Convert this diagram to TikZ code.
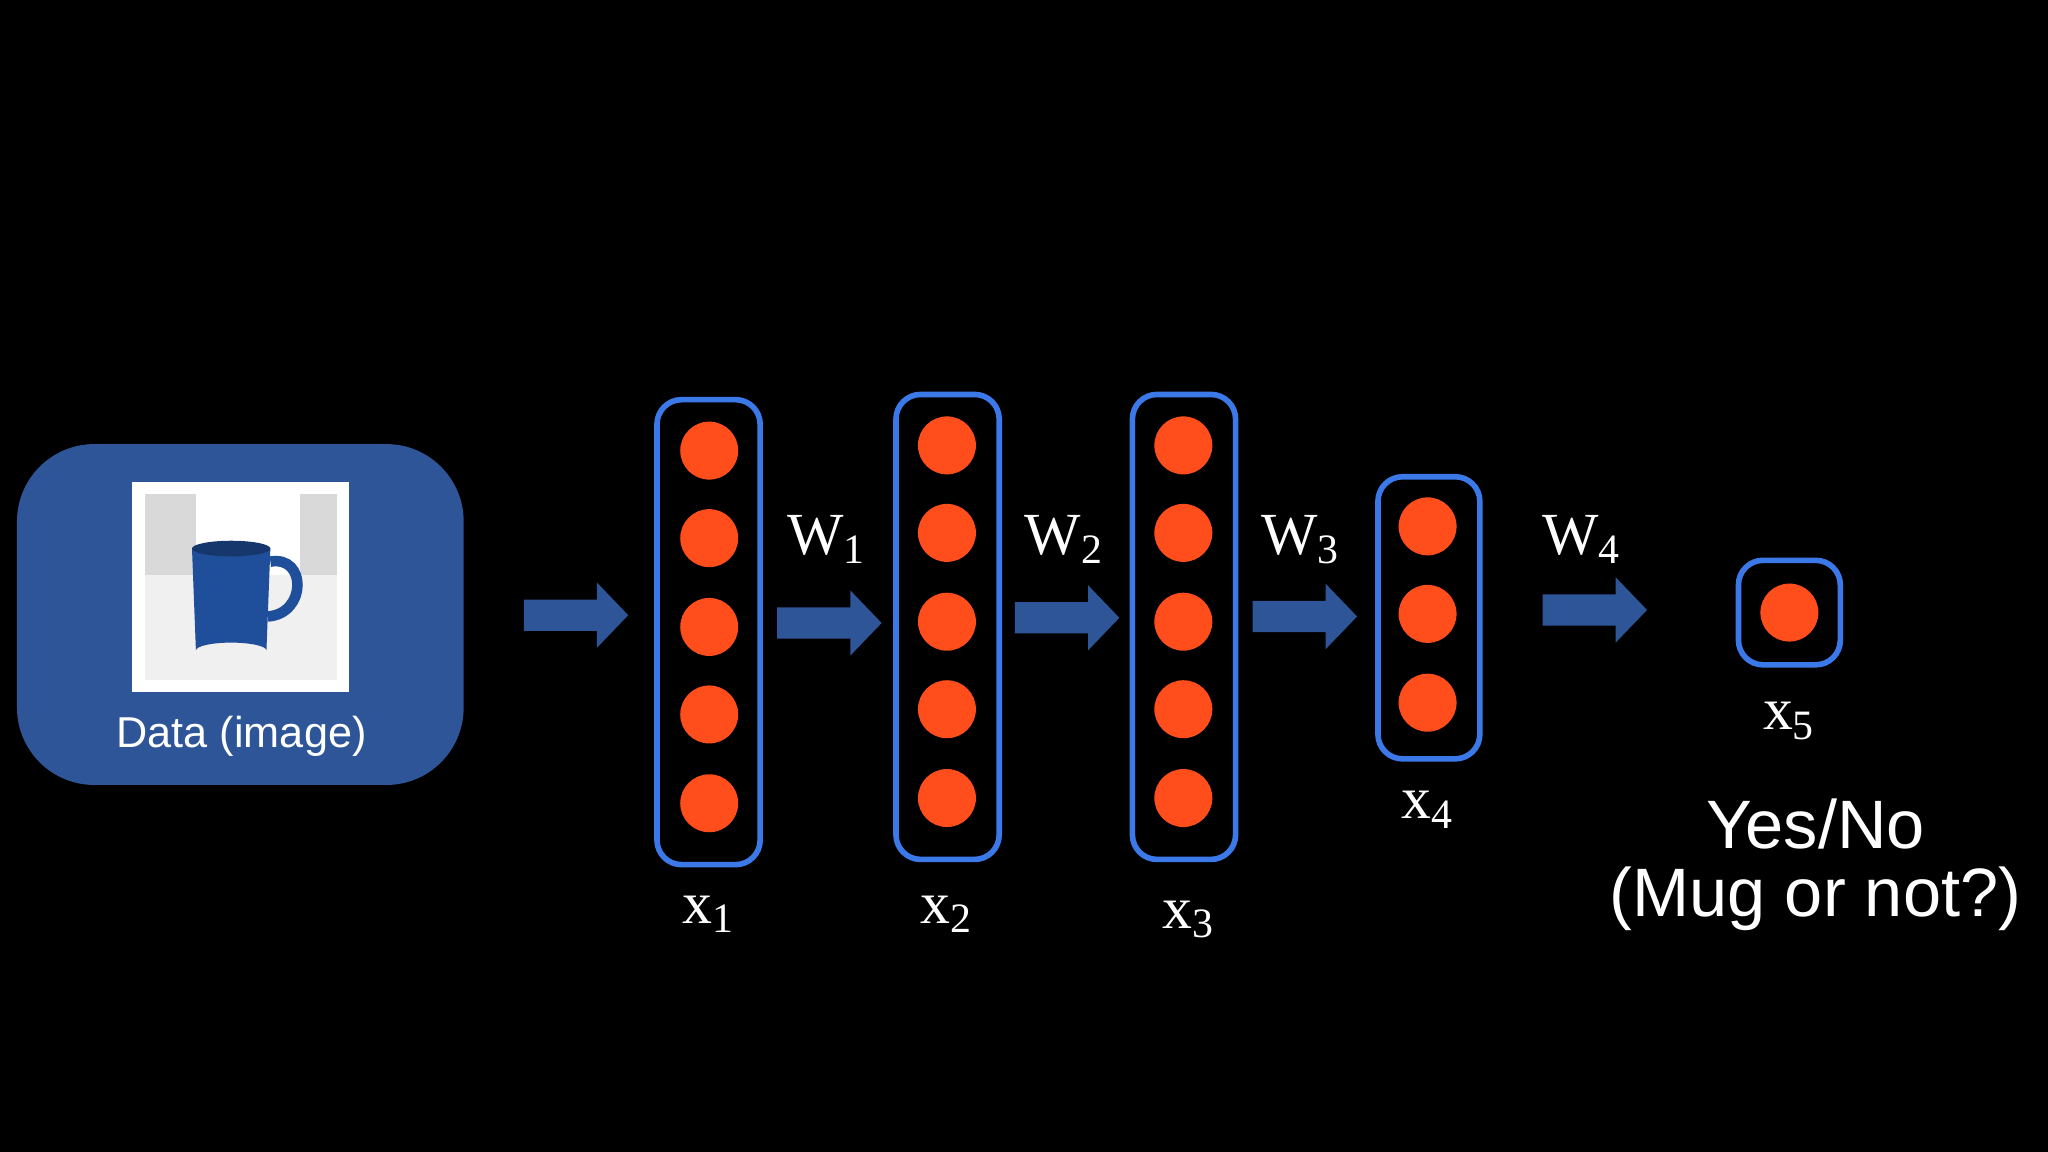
\documentclass[tikz,border=0pt]{standalone}
\usepackage{fontspec}
\setmainfont{Liberation Serif}
\newfontfamily\sans{Liberation Sans}
\begin{document}
\begin{tikzpicture}[x=0.013061cm,y=-0.013061cm,
  blk/.style={fill=boxblue},
  layer/.style={draw=lineblue,line width=1.6pt,rounded corners=7pt},
  neuron/.style={circle,fill=neur,inner sep=0pt,minimum size=16.5pt},
  lab/.style={text=white,font=\fontsize{17}{20}\selectfont},
  sl/.style={text=white,font=\sans\fontsize{19.5}{23}\selectfont}]
\definecolor{boxblue}{HTML}{2E5597}
\definecolor{lineblue}{HTML}{3B78E8}
\definecolor{neur}{HTML}{FF4E1C}
\definecolor{mug}{HTML}{1F4E9A}
\fill[black] (0,0) rectangle (1568,882);
% data box
\fill[boxblue,rounded corners=22pt] (13,340) rectangle (355,601);
\fill[white] (101,369) rectangle (267,530);
\fill[gray!12] (111,378) rectangle (258,521);
\fill[gray!30] (111,378) rectangle (258,440);
\fill[white] (150,378) rectangle (230,440);
\fill[mug] (147,420) -- (150,498) arc[start angle=180,end angle=360,x radius=27,y radius=6] -- (207,420) -- cycle;
\draw[mug,line width=3pt] (207,430) .. controls (235,425) and (235,470) .. (205,472);
\fill[mug!70!black] (177,420) ellipse (30 and 6);
\node[text=white,font=\sans\fontsize{12.3}{15}\selectfont] (data) at (185,564) {Data (image)};
% arrows
\foreach \n/\xa/\ya in {a1/401/471,a2/595/477,a3/777/473,a4/959/472,a5/1181/467}{
  \fill[boxblue] (\xa,\ya-12) -- (\xa+56,\ya-12) -- (\xa+56,\ya-25) -- (\xa+80,\ya) -- (\xa+56,\ya+25) -- (\xa+56,\ya+12) -- (\xa,\ya+12) -- cycle;
  \coordinate (\n) at (\xa,\ya);
}
% layers
\draw[layer] (503,306) rectangle (582,662);
\draw[layer] (686,302) rectangle (765,658);
\draw[layer] (867,302) rectangle (946,658);
\draw[layer] (1055,365) rectangle (1133,581);
\draw[layer] (1331,429) rectangle (1409,509);
\foreach \y [count=\i] in {345,412,480,547,615}{\node[neuron] (p\i) at (543,\y) {};}
\foreach \y [count=\i] in {341,408,476,543,611}{\node[neuron] (q\i) at (725,\y) {}; \node[neuron] (r\i) at (906,\y) {};}
\foreach \y [count=\i] in {403,470,538}{\node[neuron] (s\i) at (1093,\y) {};}
\node[neuron] (t1) at (1370,469) {};
% labels
\node[lab] (x1) at (543,700) {x$_{\mathrm{1}}$};
\node[lab] (x2) at (725,700) {x$_{\mathrm{2}}$};
\node[lab] (x3) at (910,704) {x$_{\mathrm{3}}$};
\node[lab] (x4) at (1093,620) {x$_{\mathrm{4}}$};
\node[lab] (x5) at (1370,552) {x$_{\mathrm{5}}$};
\node[lab] (w1) at (633,413) {W$_{\mathrm{1}}$};
\node[lab] (w2) at (815,413) {W$_{\mathrm{2}}$};
\node[lab] (w3) at (996,413) {W$_{\mathrm{3}}$};
\node[lab] (w4) at (1211,413) {W$_{\mathrm{4}}$};
\node[sl] (yn) at (1390,631) {Yes/No};
\node[sl] (mn) at (1390,688) {(Mug or not?)};
\end{tikzpicture}
\end{document}
